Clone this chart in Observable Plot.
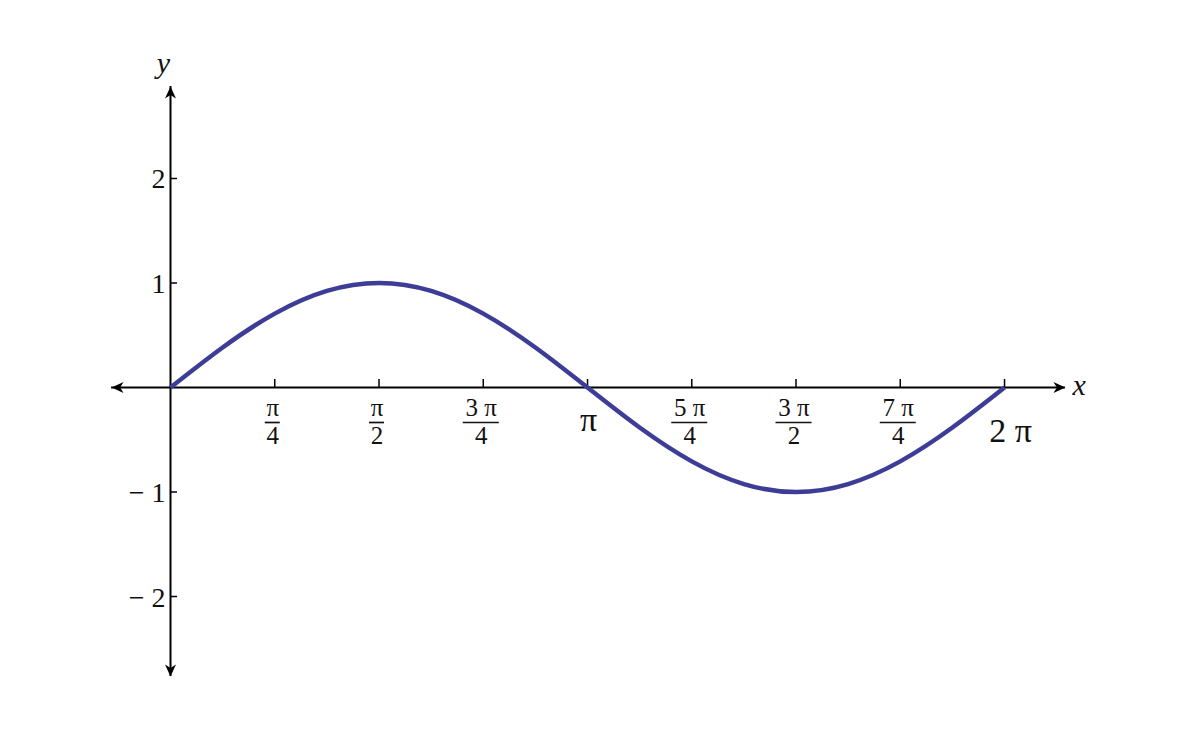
<!DOCTYPE html>
<html>
<head>
<meta charset="utf-8">
<script src="https://cdn.jsdelivr.net/npm/d3@7"></script>
<script src="https://cdn.jsdelivr.net/npm/@observablehq/plot@0.6"></script>
<style>
  html, body { margin: 0; padding: 0; background: #ffffff; }
  #chart svg { display: block; font-family: "Liberation Serif", "DejaVu Serif", serif; }
  #chart svg text { font-family: "Liberation Serif", "DejaVu Serif", serif; }
</style>
</head>
<body>
<div id="chart"></div>
<script>
// ---- data ----
// curve samples: x in steps of π/8, y values
const curveSteps = [0, 1, 2, 3, 4, 5, 6, 7, 8, 9, 10, 11, 12, 13, 14, 15, 16];
const curveValues = [0, 0.383, 0.707, 0.924, 1, 0.924, 0.707, 0.383, 0,
                     -0.383, -0.707, -0.924, -1, -0.924, -0.707, -0.383, 0];

// x ticks in quarters of π
const xTickQuarters = [1, 2, 3, 4, 5, 6, 7, 8];
const fracQuarters = [1, 2, 3, 5, 6, 7];
const fracNumerators = ["π", "π", "3 π", "5 π", "3 π", "7 π"];
const fracDenominators = ["4", "2", "4", "4", "2", "4"];
const wholeQuarters = [4, 8];
const wholeLabels = ["π", "2 π"];

// y ticks
const yTicks = [-2, -1, 1, 2];
const yTickLabels = ["− 2", "− 1", "1", "2"];

// axis extents (data units)
const xAxisEnds = [-0.444, 6.742];
const yAxisEnds = [-2.766, 2.88];
const xDomain = [-1.2807, 7.7595];
const yDomain = [-3.3301, 3.7033];

// ---- helpers ----
const PI = Math.PI;
const curve = curveSteps.map((s, i) => ({x: s * PI / 8, y: curveValues[i]}));
const fracIdx = fracQuarters.map((_, i) => i);
const shortIdx = fracIdx.filter(i => fracNumerators[i].length === 1);
const longIdx = fracIdx.filter(i => fracNumerators[i].length > 1);

const arrowHeads = [
  {x: xAxisEnds[1], y: 0, rot: 0},
  {x: xAxisEnds[0], y: 0, rot: 180},
  {x: 0, y: yAxisEnds[1], rot: -90},
  {x: 0, y: yAxisEnds[0], rot: 90}
];

// notched arrowhead with its tip at the origin, pointing right
const arrowSymbol = {
  draw(ctx, size) {
    ctx.moveTo(0, 0);
    ctx.lineTo(-12, -5.5);
    ctx.lineTo(-8.5, 0);
    ctx.lineTo(-12, 5.5);
    ctx.closePath();
  }
};

const serif = "Liberation Serif";
const ink = "#111111";
const curveColor = "#3d3d98";

const chart = Plot.plot({
  width: 1200,
  height: 735,
  margin: 0,
  style: {fontFamily: serif, background: "#ffffff", color: "#000"},
  x: {domain: xDomain, axis: null},
  y: {domain: yDomain, axis: null},
  marks: [
    // axes
    Plot.ruleY([0], {x1: xAxisEnds[0], x2: xAxisEnds[1], stroke: "#000", strokeWidth: 2}),
    Plot.ruleX([0], {y1: yAxisEnds[0], y2: yAxisEnds[1], stroke: "#000", strokeWidth: 2}),
    Plot.dot(arrowHeads, {x: "x", y: "y", rotate: "rot", symbol: arrowSymbol, r: 6, fill: "#000", stroke: "none"}),
    // x ticks (pointing up)
    Plot.ruleX(xTickQuarters, {x: q => q * PI / 4, y1: 0, y2: 0, insetBottom: 8, stroke: "#000", strokeWidth: 1.5}),
    // y ticks (pointing right)
    Plot.ruleY(yTicks, {y: d => d, x1: 0, x2: 0, insetRight: -7, stroke: "#000", strokeWidth: 1.5}),
    // fraction labels
    Plot.text(fracIdx, {x: i => fracQuarters[i] * PI / 4, y: 0, text: i => fracNumerators[i],
      dy: 29, dx: -2, lineAnchor: "bottom", fontSize: 25, fontFamily: serif, fill: ink}),
    Plot.ruleY(shortIdx, {x1: i => fracQuarters[i] * PI / 4, x2: i => fracQuarters[i] * PI / 4, y: 0,
      dy: 35, dx: -2, insetLeft: -7.5, insetRight: -7.5, stroke: ink, strokeWidth: 1.7}),
    Plot.ruleY(longIdx, {x1: i => fracQuarters[i] * PI / 4, x2: i => fracQuarters[i] * PI / 4, y: 0,
      dy: 35, dx: -2, insetLeft: -18, insetRight: -18, stroke: ink, strokeWidth: 1.7}),
    Plot.text(fracIdx, {x: i => fracQuarters[i] * PI / 4, y: 0, text: i => fracDenominators[i],
      dy: 57, dx: -2, lineAnchor: "bottom", fontSize: 25, fontFamily: serif, fill: ink}),
    // whole multiples of π
    Plot.text([0], {x: wholeQuarters[0] * PI / 4, y: 0, text: () => wholeLabels[0],
      dy: 44, dx: 1, lineAnchor: "bottom", fontSize: 34, fontFamily: serif, fill: ink}),
    Plot.text([1], {x: wholeQuarters[1] * PI / 4, y: 0, text: () => wholeLabels[1],
      dy: 55, dx: 6, lineAnchor: "bottom", fontSize: 34, fontFamily: serif, fill: ink}),
    // y tick labels
    Plot.text(yTicks, {x: 0, y: d => d, text: (d, i) => yTickLabels[i], textAnchor: "end",
      lineAnchor: "bottom", dy: 10, dx: -5, fontSize: 28, fontFamily: serif, fill: ink}),
    // axis names
    Plot.text(["y"], {x: 0, y: yAxisEnds[1], text: d => d, dy: -14, dx: -7, lineAnchor: "bottom",
      fontSize: 30, fontStyle: "italic", fontFamily: serif, fill: ink}),
    Plot.text(["x"], {x: xAxisEnds[1], y: 0, text: d => d, dy: 8, dx: 7, textAnchor: "start", lineAnchor: "bottom",
      fontSize: 30, fontStyle: "italic", fontFamily: serif, fill: ink}),
    // the curve
    Plot.line(curve, {x: "x", y: "y", curve: "natural", stroke: curveColor, strokeWidth: 4.5,
      strokeLinecap: "butt", strokeLinejoin: "round"})
  ]
});

document.getElementById("chart").appendChild(chart);
</script>
</body>
</html>
